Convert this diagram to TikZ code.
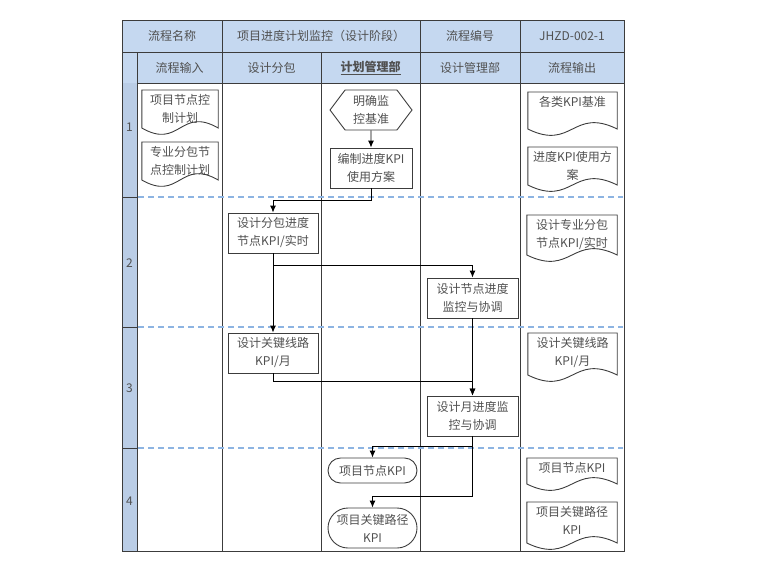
\documentclass[tikz,border=0pt]{standalone}
\usepackage{fontspec}
\setmainfont{Noto Sans CJK SC}
\usetikzlibrary{arrows.meta,calc,positioning,shapes.misc,shapes.symbols}
\definecolor{hdrB}{RGB}{197,216,240}
\definecolor{laneB}{RGB}{186,205,230}
\definecolor{dashB}{RGB}{141,180,226}
\definecolor{lineG}{RGB}{60,60,60}
\definecolor{txtG}{RGB}{80,80,80}

\begin{document}
\begin{tikzpicture}[x=1pt,y=-1pt,>={Latex[length=7pt,width=6pt]},
  every node/.style={font=\fontsize{12}{18}\selectfont,text=txtG},
  grid/.style={draw=lineG,line width=0.9pt},
  lane/.style={dashB,line width=1.1pt,dash pattern=on 6pt off 4pt},
  box/.style={draw=lineG,line width=0.9pt,align=center,minimum height=40pt,inner sep=0pt},
  hexa/.style={box,signal,signal to=east and west,signal pointer angle=106},
  term/.style={box,rounded rectangle},
  docu/.style={align=center,anchor=north,inner xsep=0pt,inner ysep=4pt},
  docline/.style={draw=lineG,line width=0.9pt},
  arr/.style={->,black,line width=0.9pt}]
\useasboundingbox (0,0) rectangle (760,570);
% frame
\fill[hdrB] (122,20) rectangle (624,83);
\fill[laneB] (122,83) rectangle (137,551);
\draw[grid] (122,20) rectangle (624,551);
\draw[grid] (122,52)--(624,52) (137,83)--(624,83);
\draw[grid] (222,20)--(222,551) (420,20)--(420,551) (520,20)--(520,551);
\draw[grid] (137,52)--(137,551) (321,52)--(321,551);
\foreach \y in {197,327,448}{
  \draw[grid] (122,\y)--(137,\y);
  \draw[lane] (138,\y)--(623,\y);
}
% header
\node (hname) at (172,36) {流程名称};
\node (htitle) at (321,36) {项目进度计划监控（设计阶段）};
\node (hno) at (470,36) {流程编号};
\node (hcode) at (572,36) {JHZD-002-1};
\node (cin) at (179.5,68) {流程输入};
\node (csub) at (271.5,68) {设计分包};
\node (cplan) at (370.5,68) {\underline{\textbf{计划管理部}}};
\node (cdes) at (470,68) {设计管理部};
\node (cout) at (572,68) {流程输出};
\foreach \i/\y in {1/127,2/263,3/388,4/501}
  \node (row\i) at (129.5,\y) {\i};
% process
\node[hexa,minimum width=82pt] (hex) at (371,110) {明确监\\控基准};
\node[box,minimum width=82pt] (plan) at (371,168) {编制进度KPI\\使用方案};
\node[box,minimum width=90pt] (subkpi) at (273,233) {设计分包进度\\节点KPI/实时};
\node[box,minimum width=91pt] (nodemon) at (472.5,298) {设计节点进度\\监控与协调};
\node[box,minimum width=90pt] (keypath) at (273,353) {设计关键线路\\KPI/月};
\node[box,minimum width=91pt] (monthmon) at (472.5,416) {设计月进度监\\控与协调};
\node[term,minimum width=89pt,minimum height=25pt] (nodekpi) at (372.5,470.5) {项目节点KPI};
\node[term,minimum width=89pt] (pathkpi) at (372.5,528) {项目关键路径\\KPI};
% documents
\node[docu,minimum width=76pt] (in1) at (180,90) {项目节点控\\制计划};
\node[docu,minimum width=76pt] (in2) at (180,142) {专业分包节\\点控制计划};
\node[docu,minimum width=89pt] (out1) at (572.5,92) {各类KPI基准};
\node[docu,minimum width=89pt] (out2) at (572.5,147) {进度KPI使用方\\案};
\node[docu,minimum width=90pt] (out3) at (572,215) {设计专业分包\\节点KPI/实时};
\node[docu,minimum width=89pt] (out4) at (572.5,333) {设计关键线路\\KPI/月};
\node[docu,minimum width=90pt] (out5) at (572,458) {项目节点KPI};
\node[docu,minimum width=90pt] (out6) at (572,502) {项目关键路径\\KPI};
\foreach \n/\h in {in1/43,in2/43,out1/42,out2/43,out3/45,out4/47,out5/31,out6/46}
  \draw[docline] (\n.north west) -- (\n.north east) -- ($(\n.north east)+(0,\h-5)$)
    .. controls ($(\n.north)+(0,\h-27)$) and ($(\n.north)+(0,\h+17)$) .. ($(\n.north west)+(0,\h-5)$) -- cycle;
% flow
\draw[arr] (hex) -- (plan);
\draw[arr] (plan.south) -- ++(0,12) -| (subkpi.north);
\draw[arr] (subkpi) -- (keypath);
\draw[arr] (subkpi.south) -- ++(0,12) -| (nodemon.north);
\draw[arr] (nodemon) -- (monthmon);
\draw[arr] (keypath.south) -- ++(0,8) -| (monthmon.north);
\draw[arr] (monthmon.south) -- ++(0,10) -| (nodekpi.north);
\draw[arr] (monthmon.south) -- ++(0,60) -| (pathkpi.north);
\end{tikzpicture}
\end{document}
